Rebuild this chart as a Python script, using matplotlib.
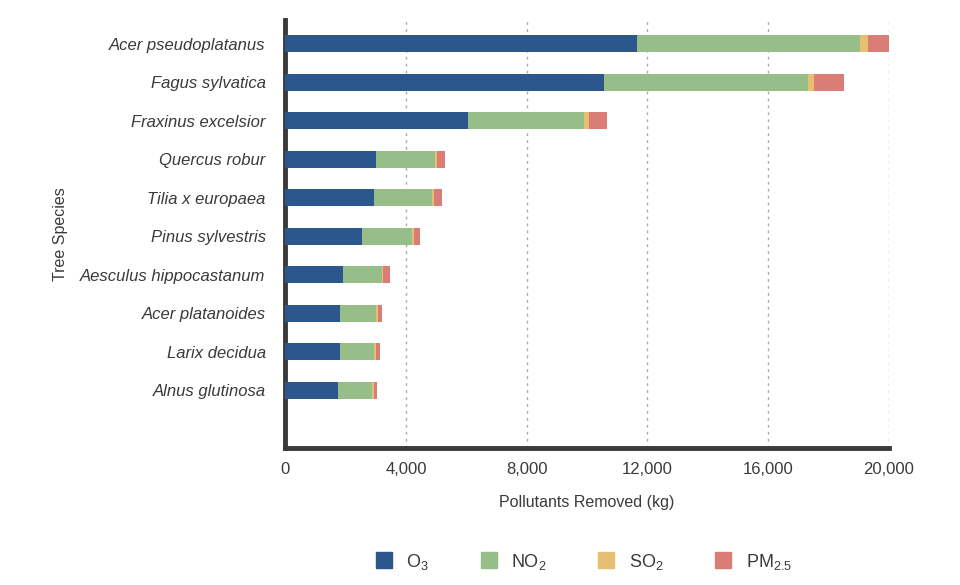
import numpy as np
import matplotlib
matplotlib.use("Agg")
import matplotlib.pyplot as plt
from matplotlib.lines import Line2D

plt.rcParams['font.family'] = ['Liberation Sans', 'DejaVu Sans']
plt.rcParams['mathtext.fontset'] = 'custom'
plt.rcParams['mathtext.rm'] = 'Liberation Sans'
plt.rcParams['mathtext.it'] = 'Liberation Sans:italic'

# ==========================
# Data (kg removed per year)
# ==========================
species = ["Acer pseudoplatanus", "Fagus sylvatica", "Fraxinus excelsior",
           "Quercus robur", "Tilia x europaea", "Pinus sylvestris",
           "Aesculus hippocastanum", "Acer platanoides", "Larix decidua",
           "Alnus glutinosa"]
o3 = [11650, 10560, 6060, 3010, 2950, 2550, 1920, 1820, 1820, 1760]
no2 = [7380, 6760, 3840, 1950, 1920, 1660, 1290, 1190, 1130, 1130]
so2 = [270, 200, 170, 70, 70, 70, 30, 60, 50, 40]
pm25 = [700, 990, 600, 270, 260, 200, 230, 140, 150, 120]

pollutants = [r"O$_3$", r"NO$_2$", r"SO$_2$", r"PM$_{2.5}$"]
colors = ["#2c578d", "#97bd88", "#e6bf72", "#db7d77"]

# ==========================
# Plot
# ==========================
fig = plt.figure(figsize=(9.6, 5.85), dpi=100)
ax = fig.add_axes([0.297, 0.234, 0.629, 0.732])

y = np.arange(len(species))
left = np.zeros(len(species))
for vals, col in zip([o3, no2, so2, pm25], colors):
    ax.barh(y, vals, left=left, height=0.44, color=col, zorder=3)
    left += np.array(vals)

ax.set_xlim(0, 20000)
ax.set_ylim(10.5, -0.62)
ax.set_xticks(np.arange(0, 20001, 4000))
ax.set_xticklabels([f"{v:,}" for v in range(0, 20001, 4000)])
ax.set_yticks(y)
ax.set_yticklabels(species, fontstyle="italic")
ax.tick_params(axis="both", length=0, labelsize=12, colors="#3a3a3a")
ax.tick_params(axis="x", pad=10)
ax.tick_params(axis="y", pad=14)

ax.grid(axis="x", linestyle=(0, (2, 3)), color="#aaaaaa", linewidth=1, zorder=0)
for s in ["top", "right"]:
    ax.spines[s].set_visible(False)
for s in ["left", "bottom"]:
    ax.spines[s].set_color("#3a3a3a")
    ax.spines[s].set_linewidth(3.5)

ax.set_xlabel("Pollutants Removed (kg)", fontsize=11.5, color="#3a3a3a", labelpad=13)
ax.set_ylabel("Tree Species", fontsize=11.5, color="#3a3a3a", labelpad=9)

handles = [Line2D([], [], marker="s", linestyle="none", markersize=11,
                  markerfacecolor=c, markeredgecolor=c) for c in colors]
fig.legend(handles, pollutants, loc="center", bbox_to_anchor=(0.603, 0.04),
           ncol=4, frameon=False, fontsize=13, columnspacing=2.3,
           handletextpad=0.25, labelcolor="#3a3a3a")

fig.savefig("out.png", dpi=100)
